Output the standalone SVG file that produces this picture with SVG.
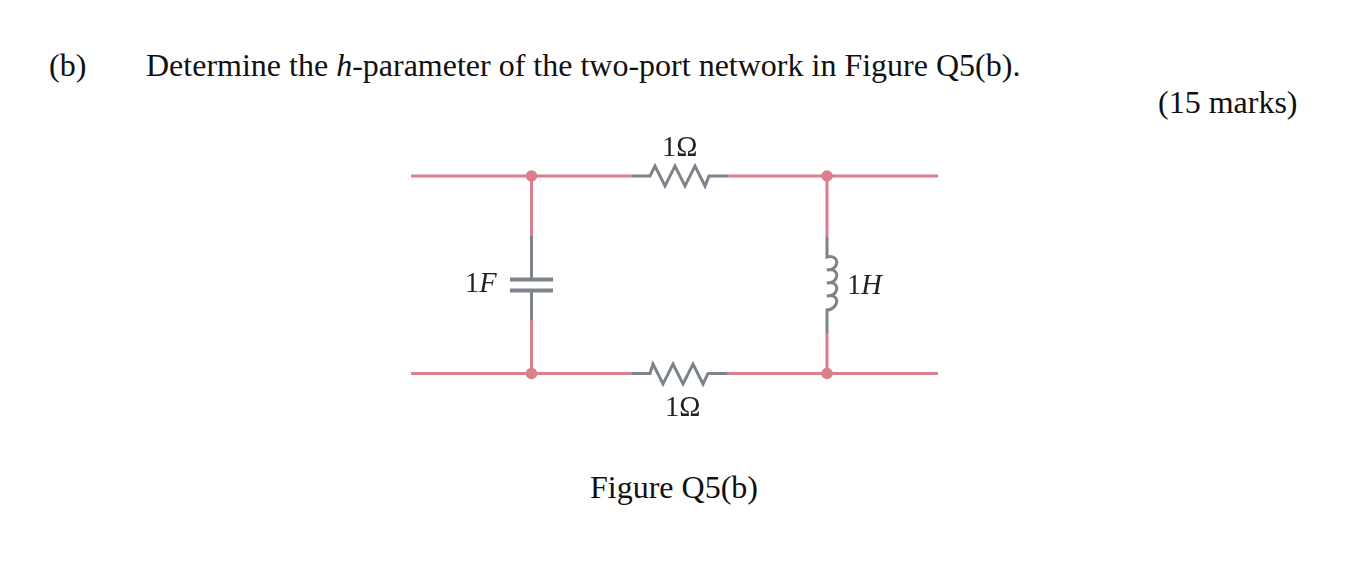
<svg xmlns="http://www.w3.org/2000/svg" width="1356" height="584" viewBox="0 0 1356 584">
<style>
text{font-family:"Liberation Serif","Times New Roman",serif;fill:#111}
.q{font-size:32px}
.l{font-size:28.500px;fill:#222}
.p{fill:none;stroke:#db7f8f;stroke-width:3}
.g{fill:none;stroke:#7d838b;stroke-width:3}
.c{fill:none;stroke:#7d838b;stroke-width:4}
.d{fill:#db7f8f}
</style>
<defs><filter id="s" x="-5%" y="-5%" width="110%" height="110%"><feGaussianBlur stdDeviation="0.5"/></filter></defs>
<rect width="1356" height="584" fill="#fff"/>
<g id="question">
<text class="q" x="49" y="76">(b)</text>
<text class="q" x="146" y="76">Determine the <tspan font-style="italic">h</tspan>-parameter of the two-port network in Figure Q5(b).</text>
<text class="q" x="1158" y="113">(15 marks)</text>
<text class="q" x="590" y="498">Figure Q5(b)</text>
</g>
<g id="connectors" filter="url(#s)">
<path class="p" d="M411 176H632M728 176H938M411 373.500H632M727 373.500H938M531.500 176V236M531.500 320V373.500M827 176V237M827 333V373.500"/>
<path class="g" d="M632 176H650L655 166L665 186L675 166L685 186L695 166L705 186L709 176H728"/>
<path class="g" d="M632 373.500H650L653 364L663 384L673 364L683 384L693 364L703 384L708 373.500H727"/>
<path class="g" d="M531.500 236V279M531.500 290V320"/>
<path class="g" d="M827 237V257C833 255 838 259 836.500 264C835 269 830 270 827 270C833 268 838 272 836.500 277C835 282 830 283 827 283C833 281 838 285 836.500 290C835 295 830 296 827 296C833 294 838 298 836.500 303C835 308 830 310 827 310V333"/>
</g>
<g id="node-top-left" filter="url(#s)"><circle class="d" cx="531.500" cy="176" r="5.800"/></g>
<g id="node-top-right" filter="url(#s)"><circle class="d" cx="827" cy="176" r="5.800"/></g>
<g id="node-bottom-left" filter="url(#s)"><circle class="d" cx="531.500" cy="373.500" r="5.800"/></g>
<g id="node-bottom-right" filter="url(#s)"><circle class="d" cx="827" cy="373.500" r="5.800"/></g>
<g id="capacitor" filter="url(#s)">
<path class="c" d="M510 279.500H553M510 290.500H553"/>
<text class="l" x="465" y="292">1<tspan font-style="italic">F</tspan></text>
</g>
<g id="inductor-label" filter="url(#s)"><text class="l" x="847" y="294">1<tspan font-style="italic">H</tspan></text></g>
<g id="resistor-top-label" filter="url(#s)"><text class="l" x="662" y="155.500">1Ω</text></g>
<g id="resistor-bottom-label" filter="url(#s)"><text class="l" x="665" y="415.500">1Ω</text></g>
</svg>
